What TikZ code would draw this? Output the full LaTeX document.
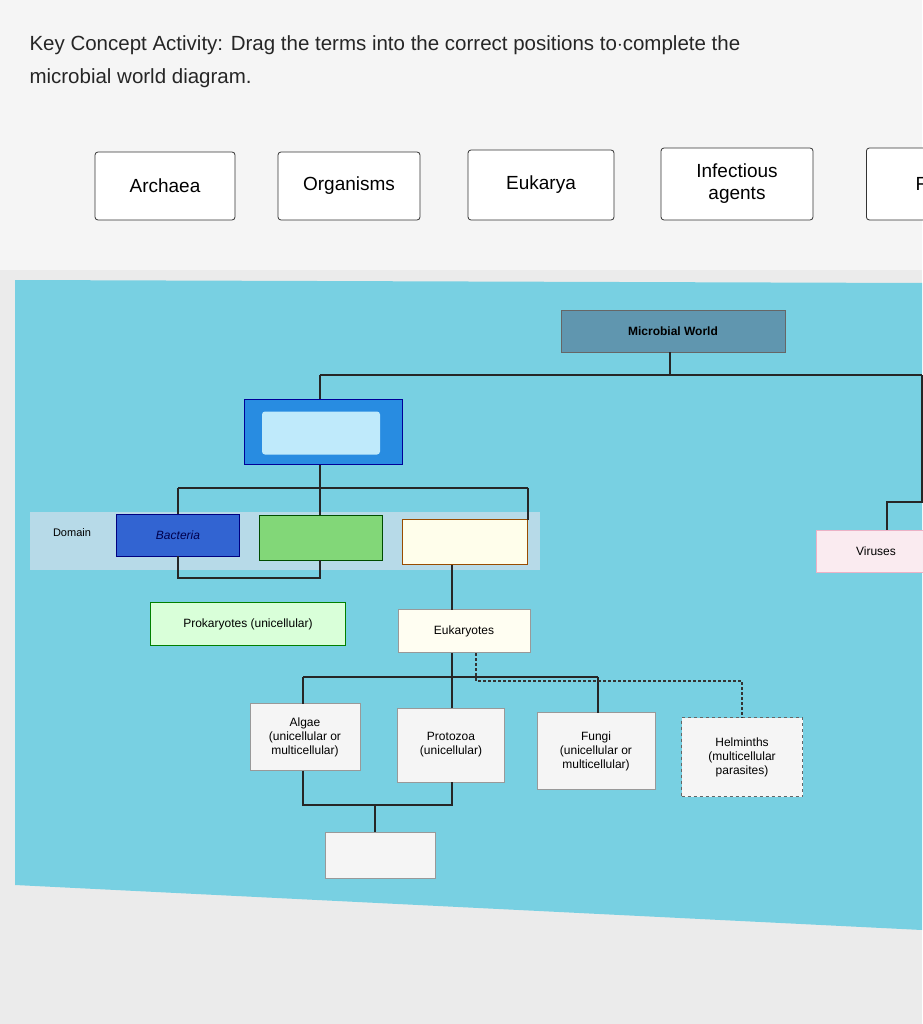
\documentclass[tikz,border=0pt]{standalone}
\usepackage{fontspec}
\setmainfont{Liberation Sans}
\begin{document}
\begin{tikzpicture}[x=1pt,y=-1pt,
 term/.style={draw=black!80,line width=0.8pt,rounded corners=3pt,fill=white,font=\fontsize{19}{22}\selectfont,align=center},
 box/.style={draw=black!40,line width=0.6pt,fill=#1,font=\fontsize{12}{14}\selectfont,align=center},
 ln/.style={line width=2pt,black!85}]
\useasboundingbox (0,0) rectangle (922,1024);
\definecolor{panel}{RGB}{120,208,226}
\definecolor{mwc}{RGB}{96,150,175}
\definecolor{orgc}{RGB}{40,140,225}
\definecolor{bacc}{RGB}{50,100,210}
\definecolor{arcc}{RGB}{130,215,120}
\fill[black!8] (0,0) rectangle (922,1024);
\fill[white!92!gray] (0,0) rectangle (922,270);
\fill[panel] (15,280) -- (922,283) -- (922,930) -- (15,885) -- cycle;
\node[anchor=west,font=\fontsize{20.5}{33}\selectfont,text=black!85,align=left] (title) at (26,62) {Key Concept Activity: Drag the terms into the correct positions to$\cdot$complete the\\microbial world diagram.};
% terms
\node[term,minimum width=140pt,minimum height=68pt] (t1) at (165,186) {Archaea};
\node[term,minimum width=142pt,minimum height=68pt] (t2) at (349,186) {Organisms};
\node[term,minimum width=146pt,minimum height=70pt] (t3) at (541,185) {Eukarya};
\node[term,minimum width=152pt,minimum height=72pt] (t4) at (737,184) {Infectious\\agents};
\node[term,minimum width=80pt,minimum height=72pt,anchor=west] (t5) at (866,184) {\hspace*{30pt}F};
% microbial world
\node[box=mwc,draw=black!60,minimum width=224pt,minimum height=42pt,font=\bfseries\fontsize{12}{14}\selectfont] (mw) at (673,331) {Microbial World};
\coordinate (j1) at (670,375);
\coordinate (jl) at (320,375);
\coordinate (jr) at (922,375);
\draw[ln] (j1 |- mw.south) -- (j1);
\draw[ln] (jl) -- (jr);
% organisms box
\node[box=orgc,draw=blue!60!black,minimum width=158pt,minimum height=65pt] (org) at (323,432) {};
\node[box=cyan!25,draw=none,rounded corners=3pt,minimum width=118pt,minimum height=43pt] (orgin) at (321,433) {};
\draw[ln] (jl) -- (jl |- org.north);
% domain band
\fill[gray!45!cyan!40] (30,512) rectangle (540,570);
\node[font=\fontsize{11}{13}\selectfont] (dom) at (72,533) {Domain};
\node[box=bacc,draw=blue!50!black,minimum width=123pt,minimum height=42pt,font=\itshape\fontsize{12}{14}\selectfont,text=blue!30!black] (bac) at (178,535) {Bacteria};
\node[box=arcc,draw=green!30!black,line width=1.2pt,minimum width=123pt,minimum height=45pt] (arc) at (321,538) {};
\node[box=yellow!8!white,draw=orange!60!black,line width=1pt,minimum width=125pt,minimum height=45pt] (euk) at (465,542) {};
\coordinate (j2) at (320,488);
\draw[ln] (j2 |- org.south) -- (j2);
\draw[ln] (178,488) -- (528,488);
\draw[ln] (178,488) -- (bac.north);
\draw[ln] (320,488) -- (320,515);
\draw[ln] (528,488) -- (528,520);
% prokaryotes
\node[box=green!15!white,draw=green!50!black,line width=1pt,minimum width=195pt,minimum height=43pt] (pro) at (248,624) {Prokaryotes (unicellular)};
\draw[ln] (bac.south) -- (178,578) -- (320,578) -- (320,560);
\node[box=white!95!yellow,minimum width=132pt,minimum height=43pt] (euks) at (464,631) {Eukaryotes};
\draw[ln] (452,565) -- (452,610);
% viruses
\node[box=purple!8!white,draw=purple!30,minimum width=120pt,minimum height=42pt] (vir) at (876,551) {Viruses};
\draw[ln] (jr) -- (922,502) -- (887,502) -- (887,530);
% eukaryote groups
\node[box=black!4,minimum width=110pt,minimum height=67pt] (alg) at (305,737) {Algae\\(unicellular or\\multicellular)};
\node[box=black!4,minimum width=107pt,minimum height=74pt] (prot) at (451,745) {Protozoa\\(unicellular)};
\node[box=black!4,minimum width=118pt,minimum height=77pt] (fun) at (596,751) {Fungi\\(unicellular or\\multicellular)};
\node[box=black!4,draw=black!60,dashed,minimum width=121pt,minimum height=79pt] (hel) at (742,757) {Helminths\\(multicellular\\parasites)};
\draw[ln] (452,653) -- (452,708);
\draw[ln] (303,677) -- (598,677);
\draw[ln] (303,677) -- (303,703.5);
\draw[ln] (598,677) -- (598,712.5);
\draw[line width=2pt,black!80,dash pattern=on 3pt off 2pt] (476,653) -- (476,681) -- (742,681) -- (hel.north);
% bottom box
\node[box=black!4,minimum width=110pt,minimum height=46pt] (bot) at (380,855) {};
\draw[ln] (303,770.5) -- (303,805) -- (452,805) -- (452,782);
\draw[ln] (375,805) -- (375,832);
\end{tikzpicture}
\end{document}
